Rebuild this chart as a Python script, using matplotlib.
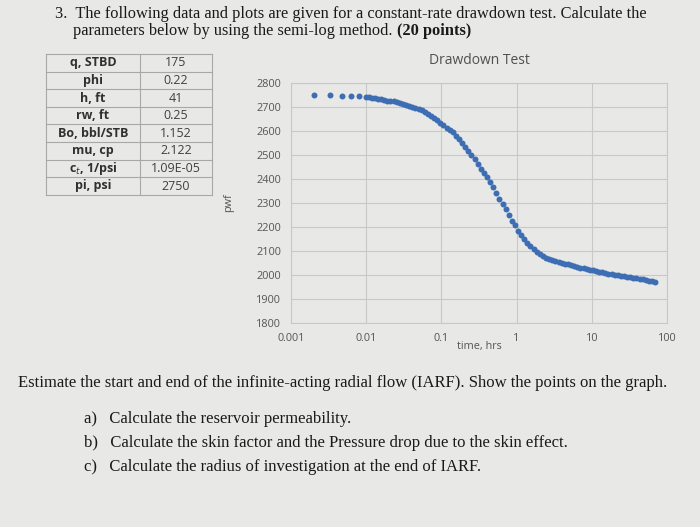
import matplotlib.pyplot as plt
from matplotlib.ticker import FixedLocator, NullLocator

# Data
param_names = ['q, STBD', 'phi', 'h, ft', 'rw, ft', 'Bo, bbl/STB', 'mu, cp', 'c$_t$, 1/psi', 'pi, psi']
param_values = ['175', '0.22', '41', '0.25', '1.152', '2.122', '1.09E-05', '2750']

time_hrs = [0.002, 0.0033, 0.0048, 0.0063, 0.008, 0.0098, 0.0108, 0.0119, 0.0131, 0.0144,
            0.0158, 0.0174, 0.0191, 0.021, 0.0231, 0.0254, 0.028, 0.0308, 0.0338, 0.0372,
            0.041, 0.045, 0.0496, 0.0545, 0.06, 0.066, 0.0726, 0.0798, 0.0878, 0.0966,
            0.106, 0.117, 0.129, 0.141, 0.156, 0.171, 0.188, 0.207, 0.228, 0.251,
            0.276, 0.303, 0.334, 0.367, 0.404, 0.444, 0.488, 0.537, 0.591, 0.65,
            0.715, 0.786, 0.865, 0.952, 1.05, 1.15, 1.27, 1.39, 1.53, 1.69,
            1.86, 2.04, 2.25, 2.47, 2.72, 2.99, 3.29, 3.62, 3.98, 4.38,
            4.82, 5.3, 5.83, 6.41, 7.05, 7.76, 8.53, 9.39, 10.3, 11.4,
            12.5, 13.7, 15.1, 16.6, 18.3, 20.1, 22.1, 24.3, 26.8, 29.4,
            32.4, 35.6, 39.2, 43.1, 47.4, 52.2, 57.4, 63.1, 69.4]
pwf = [2748, 2748, 2747, 2746, 2744, 2741, 2740, 2738, 2736, 2734,
       2732, 2730, 2727, 2725, 2723, 2721, 2717, 2714, 2710, 2706,
       2702, 2697, 2693, 2686, 2680, 2672, 2663, 2654, 2646, 2633,
       2624, 2614, 2603, 2594, 2580, 2566, 2550, 2532, 2516, 2499,
       2482, 2462, 2443, 2425, 2410, 2388, 2365, 2342, 2318, 2294,
       2273, 2248, 2226, 2207, 2185, 2168, 2150, 2135, 2120, 2108,
       2095, 2086, 2079, 2071, 2066, 2061, 2057, 2053, 2050, 2047,
       2044, 2040, 2037, 2034, 2031, 2028, 2025, 2022, 2020, 2017,
       2014, 2012, 2009, 2006, 2004, 2001, 1999, 1997, 1995, 1993,
       1990, 1988, 1986, 1984, 1982, 1979, 1977, 1974, 1971]

x_ticks = [0.001, 0.01, 0.1, 1, 10, 100]
x_tick_labels = ['0.001', '0.01', '0.1', '1', '10', '100']
y_ticks = [1800, 1900, 2000, 2100, 2200, 2300, 2400, 2500, 2600, 2700, 2800]

question = ['3.  The following data and plots are given for a constant-rate drawdown test. Calculate the',
            'parameters below by using the semi-log method.']
tasks = ['a)   Calculate the reservoir permeability.',
         'b)   Calculate the skin factor and the Pressure drop due to the skin effect.',
         'c)   Calculate the radius of investigation at the end of IARF.']

W, H = 700, 527
bg_color = '#e8e8e6'
txt_c = '#1a1a1a'
serif = 'Liberation Serif'
fig = plt.figure(figsize=(7, 5.27), dpi=100, facecolor=bg_color)

# overlay in pixel coordinates for the page text and the table
page = fig.add_axes([0, 0, 1, 1])
page.set_xlim(0, W)
page.set_ylim(H, 0)
page.axis('off')

page.text(55, 14, question[0], fontsize=11.8, family=serif, color=txt_c, va='center')
part = page.text(73, 31, question[1] + ' ', fontsize=11.8, family=serif, color=txt_c, va='center')
# bold "(20 points)" goes right after the regular part
bb = part.get_window_extent(fig.canvas.get_renderer())
x_bold = page.transData.inverted().transform((bb.x1, 0))[0]
page.text(x_bold, 31, '(20 points)', fontsize=11.8, family=serif, weight='bold',
          color=txt_c, va='center')

page.text(18, 383, 'Estimate the start and end of the infinite-acting radial flow (IARF). Show the points on the graph.',
          fontsize=12, family=serif, color=txt_c, va='center')
for i, line in enumerate(tasks):
    page.text(84, 419 + i * 24, line, fontsize=12, family=serif, color=txt_c, va='center')

# table
tx0, tx1, tx2 = 46, 140, 212
ty0, row_h = 54, 17.6
grid_c = '#a8a8a8'
for i in range(len(param_names) + 1):
    y = ty0 + i * row_h
    page.plot([tx0, tx2], [y, y], color=grid_c, lw=0.8)
for x in (tx0, tx1, tx2):
    page.plot([x, x], [ty0, ty0 + row_h * len(param_names)], color=grid_c, lw=0.8)
for i, (name, val) in enumerate(zip(param_names, param_values)):
    yc = ty0 + (i + 0.5) * row_h
    page.text((tx0 + tx1) / 2, yc, name, ha='center', va='center', fontsize=9,
              family='Open Sans', weight='bold', color='#303030')
    page.text((tx1 + tx2) / 2, yc, val, ha='center', va='center', fontsize=9,
              family='Open Sans', color='#404040')

# chart
left, right, top, bottom = 291, 667, 83, 323
ax = fig.add_axes([left / W, (H - bottom) / H, (right - left) / W, (bottom - top) / H])
ax.set_facecolor(bg_color)
ax.set_xscale('log')
ax.set_xlim(0.001, 100)
ax.set_ylim(1800, 2800)
ax.plot(time_hrs, pwf, 'o', color='#3d6db3', ms=4.3, mec='none')

ax.xaxis.set_major_locator(FixedLocator(x_ticks))
ax.xaxis.set_minor_locator(NullLocator())
ax.set_xticklabels(x_tick_labels)
ax.set_yticks(y_ticks)
ax.grid(True, color='#c8c8c8', lw=0.8)
ax.set_axisbelow(True)
for s in ax.spines.values():
    s.set_color('#c8c8c8')
    s.set_linewidth(0.8)
ax.tick_params(length=0, labelsize=7.8, labelcolor='#555555', pad=7)
for lab in ax.get_xticklabels() + ax.get_yticklabels():
    lab.set_family('Open Sans')

ax.set_title('Drawdown Test', fontsize=10, family='Open Sans', color='#505050', pad=14)
ax.set_xlabel('time, hrs', fontsize=7.8, family='Open Sans', color='#555555', labelpad=-2)
ax.set_ylabel('pwf', fontsize=7.8, family='Open Sans', color='#555555', labelpad=16)

plt.savefig('out.png', dpi=100, facecolor=bg_color)
